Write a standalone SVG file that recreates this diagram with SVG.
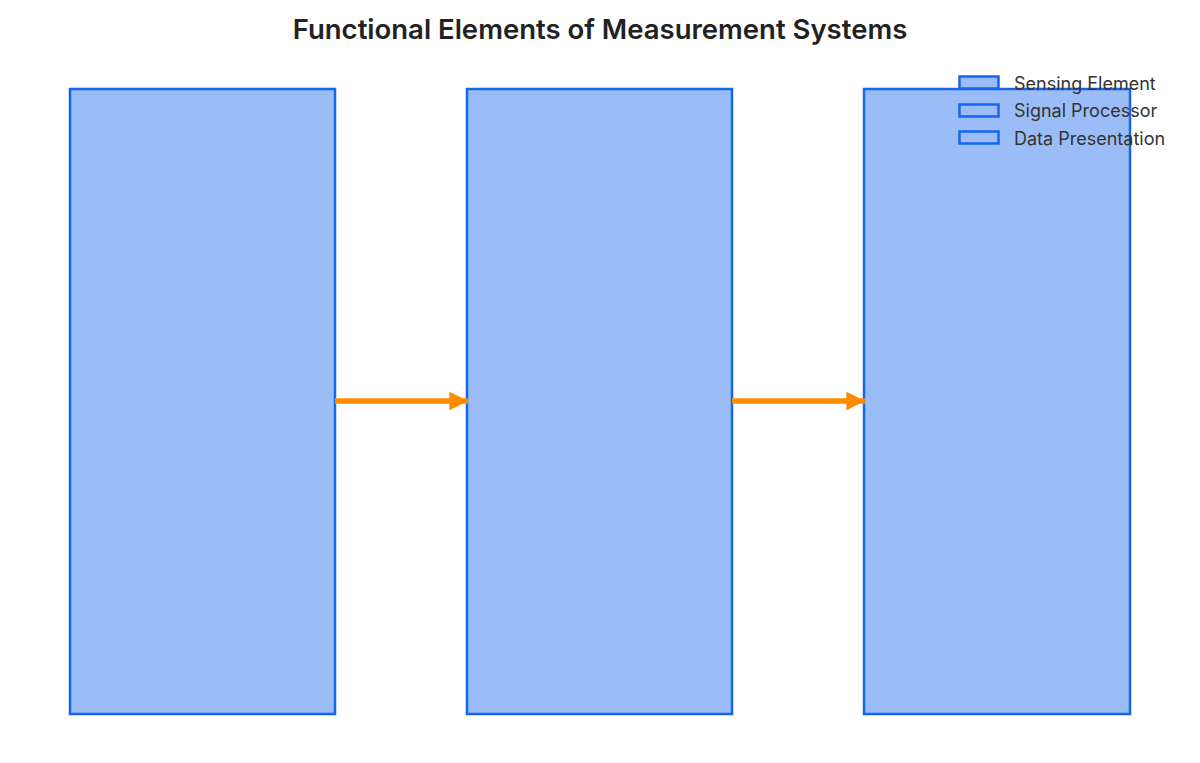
<svg xmlns="http://www.w3.org/2000/svg" width="1200" height="763" viewBox="0 0 1200 763">
<style>
.node{fill:#9bbdf7;stroke:#1565f0;stroke-width:2.5}
.conn{stroke:#ff8c00;stroke-width:5.5;fill:none}
.title{font-family:Inter,"Liberation Sans",sans-serif;font-weight:600;font-size:27.5px;fill:#222}
.leg{font-family:Inter,"Liberation Sans",sans-serif;font-size:18px;fill:#333}
.sw{stroke:#1565f0;stroke-width:2.5}
</style>
<defs>
<marker id="ah" viewBox="0 0 10 10" refX="10" refY="5" markerWidth="4" markerHeight="3.4" markerUnits="strokeWidth" orient="auto">
<path d="M0,0 L10,5 L0,10 Z" fill="#ff8c00"/>
</marker>
</defs>
<rect width="1200" height="763" fill="#fff"/>
<text class="title" x="600" y="39" text-anchor="middle">Functional Elements of Measurement Systems</text>
<g id="sensing"><rect class="node" x="70" y="89" width="265" height="625"/></g>
<g id="processor"><rect class="node" x="467" y="89" width="265" height="625"/></g>
<g id="presentation"><rect class="node" x="864" y="89" width="266" height="625"/></g>
<g id="connectors">
<line class="conn" x1="335" y1="401" x2="468" y2="401" marker-end="url(#ah)"/>
<line class="conn" x1="732" y1="401" x2="865" y2="401" marker-end="url(#ah)"/>
</g>
<g id="legend">
<rect class="sw" x="959.5" y="76.5" width="39" height="12" fill="#9bbdf7"/>
<text class="leg" x="1014" y="90">Sensing Element</text>
<rect class="sw" x="959.5" y="104.5" width="39" height="12" fill="none"/>
<text class="leg" x="1014" y="117">Signal Processor</text>
<rect class="sw" x="959.5" y="131.5" width="39" height="12" fill="none"/>
<text class="leg" x="1014" y="145">Data Presentation</text>
</g>
</svg>
